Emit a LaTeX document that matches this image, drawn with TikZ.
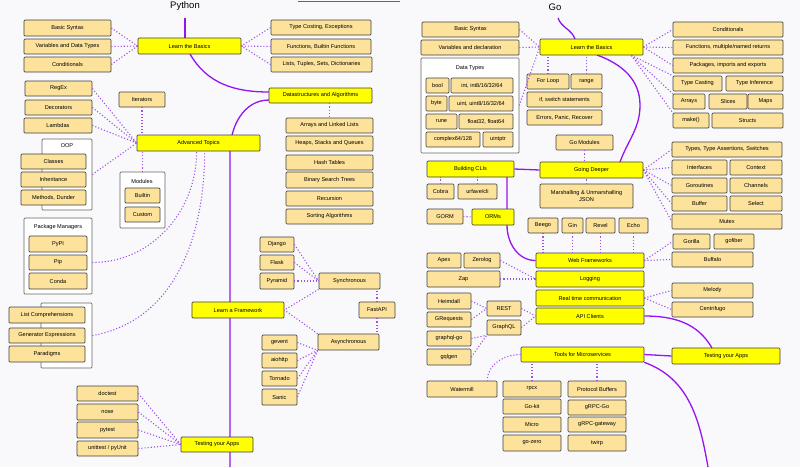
\documentclass[tikz,border=0pt]{standalone}
\usepackage{fontspec}
\setmainfont{Liberation Sans}
\usepackage{tikz}
\usetikzlibrary{calc}
\definecolor{leafc}{RGB}{252,226,154}
\definecolor{hubc}{RGB}{255,255,0}
\definecolor{spinec}{RGB}{150,20,240}
\definecolor{dotc}{RGB}{160,80,230}
\definecolor{bgc}{RGB}{249,249,251}
\tikzset{
  leaf/.style={draw=black!75,fill=leafc,line width=0.7pt,rounded corners=1pt,inner sep=0pt,align=center,font=\fontsize{5.6}{6.4}\selectfont},
  hub/.style={leaf,fill=hubc},
  group/.style={draw=black!60,fill=white,line width=0.7pt,rounded corners=1pt,inner sep=0pt},
  conn/.style={dotc,dotted,line width=1.1pt},
  spine/.style={spinec,line width=1.3pt},
  grouplabel/.style={font=\fontsize{5.6}{6.4}\selectfont,inner sep=0pt},
}
% box from pixel corners: style, name, x1, y1, x2, y2, text
\newcommand{\bx}[7]{%
  \pgfmathsetmacro\bw{#5-#3}\pgfmathsetmacro\bh{#6-#4}%
  \node[#1,minimum width=\bw pt,minimum height=\bh pt] (#2) at ({(#3+#5)/2},{-(#4+#6)/2}) {#7};}
\begin{document}
\begin{tikzpicture}[x=1pt,y=1pt]
\fill[bgc] (0,0) rectangle (800,-467);
\useasboundingbox (0,0) rectangle (800,-467);
\draw[black!60,line width=1pt] (298,-1) -- (400,-1);
% titles
\node[font=\fontsize{9.5}{10}\selectfont] (pytitle) at (185,-6) {Python};
\node[font=\fontsize{9.5}{10}\selectfont] (gotitle) at (555,-7) {Go};
% ---------- Python spine
\coordinate (pytop) at (185,-18);
\coordinate (pybot) at (230,-467);
\coordinate (pyjoin) at (230,-152);
\draw[spine] (pytop) -- (185,-40);
\draw[spine] (190,-54) to[out=-60,in=180] (269,-92);
\draw[spine] (269,-100) to[out=180,in=90] (pyjoin) -- (pybot);
% ---------- Python groups
\bx{group}{poop}{42}{139}{92}{210}{}
\node[grouplabel] (poopl) at (67,-146) {OOP};
\bx{group}{pmod}{120}{172}{165}{228}{}
\node[grouplabel] (pmodl) at (142,-181) {Modules};
\bx{group}{ppkg}{24}{218}{92}{294}{}
\node[grouplabel] (ppkgl) at (58,-227) {Package Managers};
\bx{group}{pcomp}{41}{303}{92}{368}{}
% ---------- Python boxes
\bx{leaf}{pbs}{24}{20}{111}{36}{Basic Syntax}
\bx{leaf}{pvar}{24}{39}{111}{54}{Variables and Data Types}
\bx{leaf}{pcond}{24}{57}{111}{72}{Conditionals}
\bx{hub}{pbasics}{138}{38}{241}{54}{Learn the Basics}
\bx{leaf}{ptc}{271}{20}{371}{35}{Type Costing, Exceptions}
\bx{leaf}{pfn}{271}{39}{371}{54}{Functions, Builtin Functions}
\bx{leaf}{plist}{271}{57}{372}{72}{Lists, Tuples, Sets, Dictionaries}
\bx{hub}{pds}{269}{88}{372}{103}{Datastructures and Algorithms}
\bx{leaf}{parr}{286}{118}{373}{133}{Arrays and Linked Lists}
\bx{leaf}{pheap}{286}{136}{373}{151}{Heaps, Stacks and Queues}
\bx{leaf}{phash}{286}{155}{373}{170}{Hash Tables}
\bx{leaf}{pbst}{286}{172}{373}{188}{Binary Search Trees}
\bx{leaf}{prec}{286}{191}{373}{206}{Recursion}
\bx{leaf}{psort}{286}{209}{373}{224}{Sorting Algorithms}
\bx{leaf}{pre}{25}{81}{92}{96}{RegEx}
\bx{leaf}{pdec}{25}{100}{92}{115}{Decorators}
\bx{leaf}{plam}{24}{118}{92}{133}{Lambdas}
\bx{leaf}{piter}{119}{92}{165}{107}{Iterators}
\bx{hub}{padv}{137}{135}{260}{151}{Advanced Topics}
\bx{leaf}{pcls}{21}{154}{86}{169}{Classes}
\bx{leaf}{pinh}{21}{172}{86}{187}{Inheritance}
\bx{leaf}{pmeth}{21}{190}{86}{205}{Methods, Dunder}
\bx{leaf}{pbuilt}{125}{188}{160}{203}{Builtin}
\bx{leaf}{pcust}{125}{207}{160}{222}{Custom}
\bx{leaf}{ppypi}{29}{236}{87}{252}{PyPI}
\bx{leaf}{ppip}{29}{255}{87}{270}{Pip}
\bx{leaf}{pconda}{29}{273}{87}{289}{Conda}
\bx{leaf}{plc}{9}{307}{85}{323}{List Comprehensions}
\bx{leaf}{pgen}{9}{328}{85}{343}{Generator Expressions}
\bx{leaf}{ppar}{9}{346}{85}{362}{Paradigms}
\bx{hub}{pfw}{192}{302}{284}{318}{Learn a Framework}
\bx{leaf}{pdj}{260}{237}{294}{252}{Django}
\bx{leaf}{pfl}{260}{255}{294}{270}{Flask}
\bx{leaf}{ppyr}{260}{273}{294}{289}{Pyramid}
\bx{leaf}{psync}{319}{273}{380}{289}{Synchronous}
\bx{leaf}{pfast}{359}{302}{395}{318}{FastAPI}
\bx{leaf}{pasync}{318}{334}{379}{350}{Asynchronous}
\bx{leaf}{pgev}{262}{335}{297}{350}{gevent}
\bx{leaf}{paio}{262}{353}{297}{368}{aiohttp}
\bx{leaf}{ptor}{262}{371}{297}{386}{Tornado}
\bx{leaf}{psan}{262}{389}{297}{405}{Sanic}
\bx{leaf}{pdoc}{77}{386}{138}{401}{doctest}
\bx{leaf}{pnose}{77}{404}{138}{420}{nose}
\bx{leaf}{ppyt}{77}{422}{138}{438}{pytest}
\bx{leaf}{punit}{77}{441}{138}{456}{unittest / pyUnit}
\bx{hub}{ptest}{181}{437}{253}{452}{Testing your Apps}
% ---------- Python connectors
\foreach \n in {pbs,pvar,pcond} \draw[conn] (\n.east) -- (pbasics.west);
\foreach \n in {ptc,pfn,plist} \draw[conn] (\n.west) -- (pbasics.east);
\draw[conn] (pds.south -| parr.north) -- (parr.north);
\foreach \n in {pre,pdec,plam,poop} \draw[conn] (\n.east) -- (padv.west);
\draw[conn] (piter.south) -- (piter.south |- padv.north);
\draw[conn] (pmod.north) -- (pmod.north |- padv.south);
\draw[conn] (ppkg.east |- ppip) to[out=0,in=-90] ($(padv.south west)+(60,0)$);
\draw[conn] (pcomp.east) to[out=10,in=-90] ($(padv.south west)+(68,0)$);
\foreach \n in {pdj,pfl,ppyr} \draw[conn] (\n.east) -- (psync.west);
\draw[conn] (psync.south west) -- (pfw.east);
\draw[conn] (pasync.north west) -- (pfw.east);
\draw[conn] (pfast.north) -- (pfast.north |- psync.south);
\draw[conn] (pfast.south) -- (pfast.south |- pasync.north);
\foreach \n in {pgev,paio,ptor,psan} \draw[conn] (\n.east) -- (pasync.south west);
\foreach \n in {pdoc,pnose,ppyt,punit} \draw[conn] (\n.east) -- (ptest.west);
% ---------- Go spine
\draw[spine] (558,-18) to[out=-70,in=110] (575,-39);
\draw[spine] (597,-55) to[out=-20,in=90] (640,-105) to[out=-90,in=70] (620,-162);
\bx{hub}{gdeep}{540}{162}{643}{178}{Going Deeper}
\bx{hub}{gcli}{427}{161}{514}{177}{Building CLIs}
\bx{hub}{gweb}{536}{253}{644}{268}{Web Frameworks}
\bx{hub}{gtools}{521}{347}{644}{362}{Tools for Microservices}
\bx{hub}{gtest}{672}{348}{780}{364}{Testing your Apps}
\bx{hub}{gapi}{536}{308}{644}{324}{API Clients}
\draw[spine] (gdeep.west) -- (gcli.east);
\draw[spine] (507,-177) -- (507,-225) to[out=-90,in=180] (gweb.west);
\draw[spine] (gapi.east) to[out=0,in=120] (712,-348);
\draw[spine] (gtools.east) -- (gtest.west);
\draw[spine] (gtools.south east) to[out=-20,in=100] (708,-467);
% ---------- Go boxes
\bx{group}{gdt}{421}{58}{519}{153}{}
\node[grouplabel] (gdtl) at (470,-68) {Data Types};
\bx{leaf}{gbs}{422}{22}{519}{37}{Basic Syntax}
\bx{leaf}{gvar}{421}{40}{519}{55}{Variables and declaration}
\bx{hub}{gbasics}{540}{39}{643}{55}{Learn the Basics}
\bx{leaf}{gbool}{426}{78}{449}{93}{bool}
\bx{leaf}{gint}{451}{78}{513}{93}{int, int8/16/32/64}
\bx{leaf}{gbyte}{426}{96}{447}{111}{byte}
\bx{leaf}{guint}{449}{96}{513}{111}{uint, uint8/16/32/64}
\bx{leaf}{grune}{426}{114}{457}{129}{rune}
\bx{leaf}{gfloat}{459}{114}{513}{129}{float32, float64}
\bx{leaf}{gcplx}{426}{132}{480}{147}{complex64/128}
\bx{leaf}{guptr}{483}{132}{513}{147}{uintptr}
\bx{leaf}{gfor}{527}{74}{569}{89}{For Loop}
\bx{leaf}{grange}{571}{74}{602}{89}{range}
\bx{leaf}{gif}{527}{92}{602}{107}{if, switch statements}
\bx{leaf}{gerr}{527}{110}{602}{125}{Errors, Panic, Recover}
\bx{leaf}{gcond}{673}{22}{783}{37}{Conditionals}
\bx{leaf}{gfunc}{673}{40}{783}{55}{Functions, multiple/named returns}
\bx{leaf}{gpkg}{673}{58}{783}{73}{Packages, imports and exports}
\bx{leaf}{gtcast}{673}{76}{722}{91}{Type Casting}
\bx{leaf}{gtinf}{726}{76}{783}{91}{Type Inference}
\bx{leaf}{garr}{673}{94}{705}{109}{Arrays}
\bx{leaf}{gslice}{709}{94}{747}{109}{Slices}
\bx{leaf}{gmap}{748}{94}{783}{109}{Maps}
\bx{leaf}{gmake}{673}{113}{709}{128}{make()}
\bx{leaf}{gstruct}{712}{113}{783}{128}{Structs}
\bx{leaf}{gmod}{556}{135}{613}{150}{Go Modules}
\bx{leaf}{gcobra}{427}{184}{454}{199}{Cobra}
\bx{leaf}{gurf}{458}{184}{497}{199}{urfave/cli}
\bx{leaf}{ggorm}{427}{209}{463}{224}{GORM}
\bx{hub}{gorm}{472}{209}{514}{225}{ORMs}
\bx{leaf}{gjson}{540}{184}{633}{208}{Marshalling \& Unmarshalling\\JSON}
\bx{leaf}{gtypes}{672}{142}{782}{157}{Types, Type Assertions, Switches}
\bx{leaf}{ginter}{672}{160}{727}{175}{Interfaces}
\bx{leaf}{gctx}{730}{160}{782}{175}{Context}
\bx{leaf}{ggor}{672}{178}{727}{193}{Goroutines}
\bx{leaf}{gchan}{730}{178}{782}{193}{Channels}
\bx{leaf}{gbuf}{672}{196}{727}{211}{Buffer}
\bx{leaf}{gsel}{730}{196}{782}{211}{Select}
\bx{leaf}{gmutex}{672}{214}{782}{229}{Mutex}
\bx{leaf}{gbeego}{528}{218}{558}{233}{Beego}
\bx{leaf}{ggin}{562}{218}{583}{233}{Gin}
\bx{leaf}{grevel}{586}{218}{615}{233}{Revel}
\bx{leaf}{gecho}{619}{218}{648}{233}{Echo}
\bx{hub}{glog}{536}{271}{644}{287}{Logging}
\bx{hub}{grt}{536}{290}{644}{306}{Real time communication}
\bx{leaf}{ggorilla}{673}{234}{710}{249}{Gorilla}
\bx{leaf}{gfiber}{714}{234}{754}{249}{gofiber}
\bx{leaf}{gbuffalo}{672}{252}{753}{267}{Buffalo}
\bx{leaf}{gapex}{427}{253}{461}{268}{Apex}
\bx{leaf}{gzero}{464}{253}{500}{268}{Zerolog}
\bx{leaf}{gzap}{427}{271}{500}{287}{Zap}
\bx{leaf}{gmelody}{672}{283}{753}{298}{Melody}
\bx{leaf}{gcent}{672}{302}{753}{317}{Centrifugo}
\bx{leaf}{gheim}{427}{293}{471}{309}{Heimdall}
\bx{leaf}{ggreq}{427}{312}{471}{327}{GRequests}
\bx{leaf}{ggql}{427}{331}{471}{346}{graphql-go}
\bx{leaf}{ggqlgen}{427}{349}{471}{365}{gqlgen}
\bx{leaf}{grest}{487}{301}{521}{316}{REST}
\bx{leaf}{ggraphql}{487}{320}{521}{335}{GraphQL}
\bx{leaf}{gwater}{427}{381}{497}{397}{Watermill}
\bx{leaf}{grpcx}{503}{381}{561}{397}{rpcx}
\bx{leaf}{ggokit}{503}{399}{561}{414}{Go-kit}
\bx{leaf}{gmicro}{503}{417}{561}{432}{Micro}
\bx{leaf}{ggozero}{503}{435}{561}{451}{go-zero}
\bx{leaf}{gproto}{568}{381}{626}{397}{Protocol Buffers}
\bx{leaf}{ggrpc}{568}{400}{626}{415}{gRPC-Go}
\bx{leaf}{ggw}{568}{417}{626}{432}{gRPC-gateway}
\bx{leaf}{gtwirp}{568}{435}{626}{451}{twirp}
% ---------- Go connectors
\foreach \n in {gbs,gvar,gdt} \draw[conn] (\n.north east |- \n.east) -- (gbasics.west);
\foreach \n in {gfor,grange} \draw[conn] (\n.north) -- (\n.north |- gbasics.south);
\foreach \n in {gcond,gfunc,gpkg} \draw[conn] (gbasics.east) -- (\n.west);
\foreach \n in {gtcast,garr,gmake} \draw[conn] ($(gbasics.south east)+(-12,0)$) -- (\n.north west);
\draw[conn] (gmod.south) -- (gmod.south |- gdeep.north);
\draw[conn] (gjson.north) -- (gjson.north |- gdeep.south);
\foreach \n in {gtypes,ginter,ggor,gbuf,gmutex} \draw[conn] (gdeep.east) -- (\n.west);
\foreach \n in {gcobra,gurf} \draw[conn] (\n.north) -- (\n.north |- gcli.south);
\draw[conn] (ggorm.east) -- (gorm.west);
\foreach \n in {gbeego,ggin,grevel,gecho} \draw[conn] (\n.south) -- (\n.south |- gweb.north);
\foreach \n in {ggorilla,gbuffalo} \draw[conn] (gweb.east) -- (\n.west);
\foreach \n in {gzero,gzap} \draw[conn] (\n.east) -- (glog.west);
\foreach \n in {gmelody,gcent} \draw[conn] (grt.east) -- (\n.west);
\foreach \n in {gheim,ggreq} \draw[conn] (\n.east) -- (grest.west);
\foreach \n in {grest,ggraphql} \draw[conn] (\n.east) -- (gapi.west);
\foreach \n in {ggql,ggqlgen} \draw[conn] (\n.east) -- (ggraphql.south west);
\draw[conn] (gtools.west) to[out=180,in=90] ($(gwater.north east)+(-10,0)$);
\draw[conn] (grpcx.north) -- (grpcx.north |- gtools.south);
\draw[conn] (gproto.north) -- (gproto.north |- gtools.south);
\end{tikzpicture}
\end{document}
